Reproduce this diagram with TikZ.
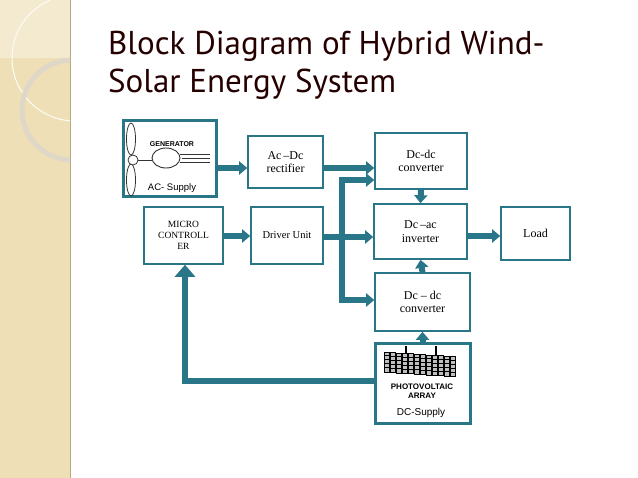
\documentclass[tikz,border=0pt]{standalone}
\usepackage{fontspec}
\setmainfont{Liberation Serif}
\newfontfamily\titlefont{PT Sans}
\newfontfamily\arialf{Liberation Sans}
\usetikzlibrary{arrows.meta}
\definecolor{teal1}{HTML}{2A7689}
\definecolor{beige}{HTML}{EEDFB6}
\definecolor{beigeD}{HTML}{B8A784}
\tikzset{
 blk/.style={draw=teal1,line width=1.6pt,fill=white,align=center,font=\fontsize{12}{13.5}\selectfont,inner sep=0pt},
 thk/.style={draw=teal1,line width=3pt,fill=white},
 fat/.style={draw=teal1,line width=6pt,-{Triangle[width=13pt,length=8pt]}},
 fatn/.style={draw=teal1,line width=6pt},
 ttl/.style={anchor=base west,font=\titlefont\fontsize{33}{35}\selectfont,inner sep=0}
}
\begin{document}
\begin{tikzpicture}[x=1pt,y=-1pt]
\useasboundingbox (0,0) rectangle (638,478);
\fill[white] (0,0) rectangle (638,478);
% left strip
\fill[beige] (0,0) rectangle (70,478);
\fill[white,opacity=0.35] (0,0) rectangle (70,58);
\draw[beigeD,line width=1pt] (70,0) -- (70,478);
\begin{scope}
\clip (0,0) rectangle (70,478);
\draw[white!90!beige,line width=1pt] (75,58) circle (63);
\draw[beigeD!45,line width=5pt] (72,110) circle (50);
\end{scope}
% title
\node[ttl,text=black!85!red] (t1) at (108,55) {Block Diagram of Hybrid Wind-};
\node[ttl,text=black!85!red] (t2) at (108,93) {Solar Energy System};
% boxes
\node[thk,minimum width=93pt,minimum height=76pt] (gen) at (169.5,159) {};
\node[blk,minimum width=75pt,minimum height=52pt] (rect) at (285.5,162) {Ac\,–Dc\\rectifier};
\node[blk,minimum width=92pt,minimum height=56pt] (dc1) at (421,161) {Dc-dc\\converter};
\node[blk,minimum width=79pt,minimum height=57pt,font=\fontsize{9.5}{11}\selectfont] (mc) at (183.5,235.5) {MICRO\\CONTROLL\\ER};
\node[blk,minimum width=72pt,minimum height=57pt,font=\fontsize{10.5}{12}\selectfont] (drv) at (287,235.5) {Driver Unit};
\node[blk,minimum width=93pt,minimum height=55pt] (inv) at (420.5,231.5) {Dc\,–ac\\inverter};
\node[blk,minimum width=69pt,minimum height=53pt] (load) at (535.5,233.5) {Load};
\node[blk,minimum width=95pt,minimum height=58pt] (dc2) at (422.5,302) {Dc – dc\\converter};
\node[thk,minimum width=95pt,minimum height=80pt] (pv) at (422.5,384) {};
% generator icon
\draw[black!80,line width=0.8pt] (131,139) ellipse (4.5 and 16);
\draw[black!80,line width=0.8pt] (131,180) ellipse (4.5 and 16);
\draw[black!80,line width=0.8pt,fill=white] (133,160) circle (5);
\draw[black!80,line width=0.8pt] (138,160) -- (152,160);
\draw[black!80,line width=0.8pt] (180,154) -- (210,154) (182,158) -- (210,158) (180,162) -- (210,162);
\draw[black!80,line width=0.9pt,fill=white] (166,158) ellipse (14 and 10);
\node[font=\arialf\bfseries\fontsize{7}{7}\selectfont,inner sep=0] (gl) at (172,144) {GENERATOR};
\node[font=\arialf\fontsize{9.5}{10}\selectfont,inner sep=0] (al) at (172,188) {AC- Supply};
% PV icon
\foreach \i in {0,...,11}{
 \draw[black,line width=0.5pt,fill=black!25] (384+\i*6,352+\i*0.4) rectangle ++(5.5,20);
 \foreach \j in {1,2,3,4} \draw[black,line width=1pt] (384+\i*6,352+\i*0.4+\j*4) -- ++(5.5,0);
}
\draw[black,line width=1.2pt] (406,346) -- (406,354) (436,346) -- (436,356);
\node[font=\arialf\bfseries\fontsize{8}{9}\selectfont,align=center,inner sep=0] (pl) at (422,391) {PHOTOVOLTAIC\\ARRAY};
\node[font=\arialf\fontsize{10}{10}\selectfont,inner sep=0] (dl) at (421,413) {DC-Supply};
% arrows
\draw[fat] (gen.east |- 0,168) -- (rect.west |- 0,168);
\draw[fat] (rect.east |- 0,168) -- (dc1.west |- 0,168);
\draw[fat] (mc.east |- 0,236) -- (drv.west |- 0,236);
\draw[fat] (drv.east |- 0,237) -- (inv.west |- 0,237);
\draw[fat] (inv.east |- 0,236) -- (load.west |- 0,236);
\coordinate (b1) at (342,180);
\coordinate (b2) at (342,300);
\draw[fatn,line join=miter] (360,180) -- (b1) -- (b2) -- (360,300);
\draw[fat] (b1) -- (dc1.west |- b1);
\draw[fat] (b2) -- (dc2.west |- b2);
\draw[fat] (dc1.south) -- (inv.north);
\draw[fat] (dc2.north) -- (inv.south);
\draw[fat] (pv.north) -- (dc2.south);
\coordinate (c1) at (185,381);
\draw[draw=teal1,line width=6pt,-{Triangle[width=20pt,length=12pt]},line join=miter] (pv.west |- c1) -- (c1) -- (mc.south -| c1);
\end{tikzpicture}
\end{document}
